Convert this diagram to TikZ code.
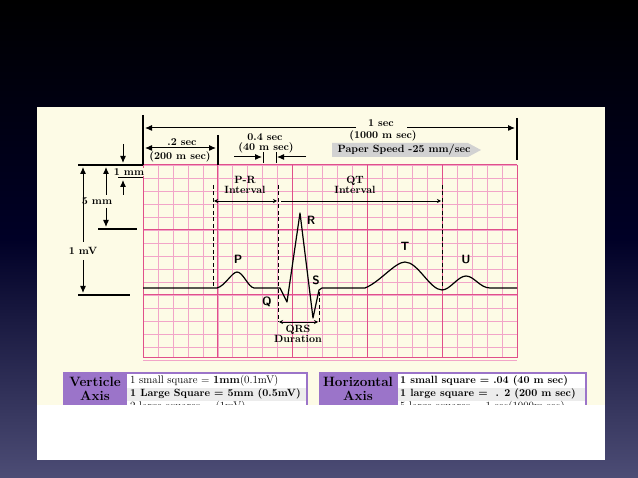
\documentclass[tikz,border=0pt]{standalone}
\usetikzlibrary{arrows.meta}
\begin{document}
\begin{tikzpicture}[x=1pt,y=-1pt,
  lbl/.style={font=\bfseries\fontsize{10.5}{10}\selectfont,inner sep=0.5pt,align=center},
  wlbl/.style={font=\bfseries\large\sffamily,inner sep=0.5pt},
  dim/.style={line width=1pt,-{Latex[length=7pt,width=6pt]}},
  dims/.style={line width=1pt,{Latex[length=7pt,width=6pt]}-{Latex[length=7pt,width=6pt]}},
  thin/.style={line width=0.7pt,{Stealth[length=4pt,width=4pt]}-{Stealth[length=4pt,width=4pt]}},
  dsh/.style={line width=1pt,dash pattern=on 4pt off 2.5pt},
  trow/.style={anchor=west,inner sep=0,font=\fontsize{11}{11}\selectfont},
  trowb/.style={anchor=west,inner sep=0,font=\bfseries\fontsize{10.5}{11}\selectfont},
  thead/.style={font=\bfseries\fontsize{13.5}{14.5}\selectfont,align=center,inner sep=0}]
\definecolor{cream}{HTML}{FDFBE6}
\definecolor{pinkg}{HTML}{E0508A}
\definecolor{pinks}{HTML}{F2A5C8}
\definecolor{purp}{HTML}{9B74C9}
\shade[top color=black,bottom color=black!60!blue!40!gray,middle color=black!85!blue] (0,0) rectangle (638,478);
\fill[cream] (37,107) rectangle (605,460);
% grid
\foreach \i in {0,...,25} \draw[pinks,line width=0.6pt] (143+\i*14.96,165) -- (143+\i*14.96,358);
\foreach \j in {0,...,15} \draw[pinks,line width=0.6pt] (143,165+\j*13) -- (517,165+\j*13);
\foreach \i in {0,...,5} \draw[pinkg,line width=1pt] (143+\i*74.8,165) -- (143+\i*74.8,358);
\foreach \j in {0,1,2} \draw[pinkg,line width=1pt] (143,165+\j*65) -- (517,165+\j*65);
\draw[pinkg,line width=1pt] (143,358) -- (517,358);
% ECG
\draw[line width=1.2pt,line join=round] (143,288) -- (217,288) .. controls (225,286) and (232,272) .. (237,272) .. controls (243,272) and (248,287) .. (254,288) -- (280,288) -- (287,302) -- (300,213) -- (313,318) -- (319,290) -- (322,288) -- (365,288) .. controls (380,282) and (395,262) .. (405,262) .. controls (418,262) and (430,290) .. (442,290) .. controls (450,290) and (458,276) .. (466,276) .. controls (474,276) and (480,288) .. (490,288) -- (517,288);
% dashed
\draw[dsh] (213,185) -- (213,288);
\draw[dsh] (278,185) -- (278,322);
\draw[dsh] (319,292) -- (319,322);
\draw[dsh] (442,185) -- (442,290);
\draw[thin] (214,201) -- (277,201);
\draw[thin,{}-{Stealth[length=4pt,width=4pt]}] (281,201) -- (441,201);
\draw[thin] (279,322) -- (318,322);
\node[lbl] (pr) at (245,185) {P-R\\Interval};
\node[lbl] (qt) at (355,185) {QT\\Interval};
\node[lbl] (qrs) at (298,334) {QRS\\Duration};
\node[wlbl] (P) at (238,259) {P};
\node[wlbl] (Q) at (267,302) {Q};
\node[wlbl] (R) at (311,220) {R};
\node[wlbl] (S) at (316,280) {S};
\node[wlbl] (T) at (405,246) {T};
\node[wlbl] (U) at (466,259) {U};
% top dimensions
\draw[line width=1.2pt] (143,115) -- (143,165);
\draw[line width=1.2pt] (517,118) -- (517,160);
\draw[dim] (356,128) -- (145,128);
\draw[dim] (407,128) -- (515,128);
\node[lbl] (one) at (381,123) {1 sec};
\node[lbl] (onems) at (383,136) {(1000 m sec)};
\draw[line width=1.2pt] (218,135) -- (218,165);
\draw[dims] (145,148) -- (216,148);
\node[lbl] (two) at (182,142) {.2 sec};
\node[lbl] (twoms) at (180,157) {(200 m sec)};
\node[lbl] (four) at (265,137) {0.4 sec};
\node[lbl] (fourms) at (266,148) {(40 m sec)};
\draw[line width=1pt] (263,152) -- (263,163);
\draw[line width=1pt] (276,152) -- (276,163);
\draw[dim] (234,157) -- (262,157);
\draw[dim] (306,157) -- (277,157);
\fill[gray!35] (332,143) -- (468,143) -- (481,150) -- (468,157) -- (332,157) -- cycle;
\node[lbl] (ps) at (404,150) {Paper Speed -25 mm/sec};
% left dimensions
\draw[line width=1.2pt] (78,165) -- (143,165);
\draw[line width=1.2pt] (78,295) -- (130,295);
\draw[dim] (83,242) -- (83,167);
\draw[dim] (83,260) -- (83,293);
\node[lbl] (mv) at (83,251) {1 mV};
\draw[line width=1.2pt] (98,229) -- (137,229);
\draw[dim] (106,195) -- (106,167);
\draw[dim] (106,208) -- (106,227);
\node[lbl] (five) at (97,201) {5 mm};
\draw[line width=1pt] (118,178) -- (143,178);
\draw[dim] (123,144) -- (123,163);
\draw[dim] (123,195) -- (123,180);
\node[lbl,fill=cream] (onemm) at (129,172) {1 mm};
% tables
\fill[purp] (63,372) rectangle (308,407);
\fill[white] (127,374) rectangle (306,407);
\fill[gray!15] (127,388) rectangle (306,401);
\node[thead] (va) at (95,389) {Verticle\\Axis};
\node[trow] (v1) at (130,381) {1 small square = \textbf{1mm}(0.1mV)};
\node[trowb] (v2) at (130,394) {1 Large Square = 5mm (0.5mV)};
\node[trow] (v3) at (130,407) {2 large squares = (1mV)};
\fill[purp] (319,372) rectangle (587,407);
\fill[white] (398,374) rectangle (585,407);
\fill[gray!15] (398,388) rectangle (585,401);
\node[thead] (ha) at (358,389) {Horizontal\\Axis};
\node[trowb] (h1) at (400,381) {1 small square = .04 (40 m sec)};
\node[trowb] (h2) at (400,394) {1 large square = \ . 2 (200 m sec)};
\node[trow] (h3) at (400,407) {5 large squares = 1 sec(1000m sec)};
\fill[white] (37,405) rectangle (605,460);
\end{tikzpicture}
\end{document}
